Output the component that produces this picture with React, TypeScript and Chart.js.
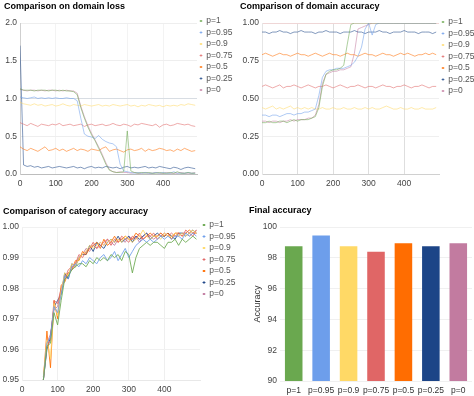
import React, { useEffect, useRef } from 'react';
import { Chart, registerables } from 'chart.js';

Chart.register(...registerables);

const FONT = 'Arial, "Liberation Sans", Helvetica, sans-serif';

const seriesLabels = ['p=1', 'p=0.95', 'p=0.9', 'p=0.75', 'p=0.5', 'p=0.25', 'p=0'];
const seriesColors = ['#6aa84f', '#6d9eeb', '#ffd966', '#e06666', '#ff6d01', '#1c4587', '#c27ba0'];

const xTickValues = [0, 100, 200, 300, 400];

const epochs = [0, 10, 20, 30, 40, 50, 60, 70, 80, 90, 100, 110, 120, 130, 140, 150, 160, 170, 180, 190, 200, 210, 220, 230, 240, 250, 260, 270, 280, 290, 300, 310, 320, 330, 340, 350, 360, 370, 380, 390, 400, 410, 420, 430, 440, 450, 460, 470, 480, 490];

// Domain loss
const lossP1 = [1.13, 1.11, 1.11, 1.11, 1.10, 1.11, 1.11, 1.11, 1.10, 1.11, 1.11, 1.10, 1.11, 1.10, 1.10, 1.09, 1.05, 0.88, 0.74, 0.62, 0.52, 0.44, 0.34, 0.24, 0.13, 0.05, 0.03, 0.02, 0.02, 0.03, 0.57, 0.04, 0.02, 0.01, 0.02, 0.01, 0.02, 0.01, 0.01, 0.02, 0.01, 0.01, 0.02, 0.01, 0.03, 0.01, 0.01, 0.02, 0.01, 0.01];
const lossP095 = [1.02, 1.01, 1.00, 1.01, 1.02, 1.00, 1.01, 1.00, 1.01, 1.00, 1.01, 1.00, 1.00, 1.01, 1.00, 1.00, 0.97, 0.74, 0.53, 0.50, 0.49, 0.47, 0.51, 0.46, 0.43, 0.41, 0.40, 0.36, 0.13, 0.04, 0.03, 0.02, 0.01, 0.02, 0.01, 0.02, 0.01, 0.01, 0.02, 0.01, 0.02, 0.01, 0.01, 0.03, 0.01, 0.01, 0.01, 0.02, 0.01, 0.01];
const lossP09 = [0.95, 0.93, 0.92, 0.91, 0.93, 0.91, 0.92, 0.90, 0.91, 0.92, 0.90, 0.91, 0.93, 0.91, 0.90, 0.92, 0.91, 0.90, 0.92, 0.91, 0.90, 0.91, 0.92, 0.90, 0.91, 0.90, 0.92, 0.91, 0.90, 0.91, 0.92, 0.90, 0.91, 0.89, 0.91, 0.90, 0.92, 0.91, 0.90, 0.91, 0.89, 0.91, 0.90, 0.91, 0.90, 0.92, 0.91, 0.93, 0.92, 0.91];
const lossP075 = [0.68, 0.66, 0.64, 0.67, 0.65, 0.63, 0.66, 0.65, 0.64, 0.66, 0.65, 0.67, 0.64, 0.65, 0.66, 0.64, 0.65, 0.66, 0.63, 0.65, 0.66, 0.64, 0.65, 0.66, 0.64, 0.65, 0.67, 0.65, 0.64, 0.66, 0.65, 0.63, 0.66, 0.65, 0.67, 0.66, 0.65, 0.64, 0.66, 0.62, 0.65, 0.66, 0.64, 0.65, 0.67, 0.66, 0.65, 0.66, 0.64, 0.63];
const lossP05 = [0.36, 0.33, 0.31, 0.34, 0.32, 0.30, 0.33, 0.36, 0.31, 0.32, 0.34, 0.31, 0.33, 0.30, 0.32, 0.34, 0.31, 0.33, 0.32, 0.30, 0.33, 0.32, 0.31, 0.34, 0.36, 0.30, 0.32, 0.33, 0.31, 0.29, 0.32, 0.33, 0.31, 0.32, 0.34, 0.30, 0.33, 0.31, 0.32, 0.34, 0.33, 0.31, 0.32, 0.30, 0.33, 0.31, 0.34, 0.32, 0.30, 0.31];
const lossP025 = [1.70, 0.12, 0.10, 0.11, 0.09, 0.10, 0.08, 0.09, 0.10, 0.08, 0.09, 0.10, 0.09, 0.08, 0.09, 0.10, 0.08, 0.09, 0.07, 0.09, 0.10, 0.08, 0.09, 0.08, 0.10, 0.09, 0.08, 0.09, 0.07, 0.09, 0.10, 0.08, 0.09, 0.08, 0.09, 0.10, 0.08, 0.09, 0.08, 0.10, 0.09, 0.08, 0.07, 0.09, 0.08, 0.06, 0.08, 0.09, 0.08, 0.07];
const lossP0 = [1.12, 1.11, 1.10, 1.11, 1.11, 1.10, 1.11, 1.10, 1.11, 1.11, 1.10, 1.11, 1.10, 1.11, 1.10, 1.10, 1.07, 0.90, 0.76, 0.64, 0.54, 0.45, 0.36, 0.26, 0.15, 0.06, 0.03, 0.02, 0.03, 0.02, 0.02, 0.01, 0.02, 0.01, 0.01, 0.02, 0.01, 0.01, 0.02, 0.01, 0.01, 0.02, 0.01, 0.01, 0.01, 0.02, 0.01, 0.01, 0.01, 0.02];

// Domain accuracy
const accP1 = [0.34, 0.34, 0.35, 0.34, 0.34, 0.35, 0.35, 0.34, 0.35, 0.36, 0.35, 0.36, 0.36, 0.36, 0.37, 0.38, 0.44, 0.58, 0.66, 0.68, 0.69, 0.69, 0.70, 0.72, 0.86, 0.99, 1.00, 1.00, 1.00, 1.00, 1.00, 1.00, 1.00, 1.00, 1.00, 1.00, 1.00, 1.00, 1.00, 1.00, 1.00, 1.00, 1.00, 1.00, 1.00, 1.00, 1.00, 1.00, 1.00, 1.00];
const accP095 = [0.39, 0.39, 0.38, 0.39, 0.39, 0.38, 0.39, 0.40, 0.40, 0.39, 0.40, 0.40, 0.41, 0.41, 0.42, 0.43, 0.52, 0.64, 0.68, 0.69, 0.69, 0.70, 0.70, 0.70, 0.71, 0.72, 0.74, 0.78, 0.84, 0.96, 1.00, 0.92, 0.99, 1.00, 1.00, 1.00, 1.00, 1.00, 1.00, 1.00, 1.00, 1.00, 1.00, 1.00, 1.00, 1.00, 1.00, 1.00, 1.00, 1.00];
const accP09 = [0.44, 0.43, 0.44, 0.45, 0.43, 0.44, 0.43, 0.44, 0.45, 0.43, 0.44, 0.43, 0.44, 0.43, 0.44, 0.43, 0.43, 0.44, 0.43, 0.43, 0.44, 0.43, 0.43, 0.44, 0.43, 0.43, 0.44, 0.43, 0.43, 0.44, 0.43, 0.44, 0.43, 0.43, 0.44, 0.45, 0.44, 0.43, 0.43, 0.44, 0.43, 0.43, 0.44, 0.43, 0.43, 0.44, 0.43, 0.43, 0.43, 0.44];
const accP075 = [0.58, 0.59, 0.58, 0.57, 0.58, 0.59, 0.57, 0.58, 0.58, 0.59, 0.58, 0.57, 0.58, 0.59, 0.58, 0.57, 0.58, 0.58, 0.59, 0.58, 0.57, 0.58, 0.59, 0.58, 0.57, 0.58, 0.58, 0.59, 0.58, 0.57, 0.58, 0.58, 0.57, 0.58, 0.59, 0.58, 0.58, 0.57, 0.58, 0.58, 0.59, 0.58, 0.57, 0.58, 0.58, 0.59, 0.58, 0.57, 0.58, 0.58];
const accP05 = [0.79, 0.80, 0.79, 0.78, 0.79, 0.80, 0.79, 0.79, 0.78, 0.79, 0.80, 0.79, 0.79, 0.78, 0.79, 0.80, 0.79, 0.78, 0.79, 0.80, 0.79, 0.79, 0.78, 0.79, 0.80, 0.79, 0.79, 0.78, 0.79, 0.80, 0.79, 0.79, 0.78, 0.79, 0.80, 0.79, 0.79, 0.78, 0.79, 0.80, 0.79, 0.80, 0.79, 0.78, 0.79, 0.79, 0.80, 0.79, 0.80, 0.79];
const accP025 = [0.94, 0.94, 0.93, 0.94, 0.94, 0.95, 0.94, 0.94, 0.93, 0.94, 0.94, 0.95, 0.94, 0.94, 0.94, 0.93, 0.94, 0.94, 0.95, 0.94, 0.94, 0.94, 0.93, 0.94, 0.94, 0.94, 0.95, 0.94, 0.94, 0.93, 0.94, 0.94, 0.94, 0.95, 0.94, 0.94, 0.93, 0.94, 0.94, 0.94, 0.95, 0.94, 0.94, 0.94, 0.93, 0.94, 0.94, 0.94, 0.93, 0.94];
const accP0 = [0.35, 0.35, 0.34, 0.35, 0.35, 0.34, 0.35, 0.35, 0.36, 0.35, 0.36, 0.36, 0.36, 0.37, 0.37, 0.39, 0.46, 0.60, 0.66, 0.67, 0.68, 0.68, 0.69, 0.69, 0.70, 0.71, 0.80, 0.96, 0.97, 0.98, 0.99, 1.00, 1.00, 1.00, 1.00, 1.00, 1.00, 1.00, 1.00, 1.00, 1.00, 1.00, 1.00, 1.00, 1.00, 1.00, 1.00, 1.00, 1.00, 1.00];

// Category accuracy
const catEpochs = [60, 70, 80, 90, 100, 110, 120, 130, 140, 150, 160, 170, 180, 190, 200, 210, 220, 230, 240, 250, 260, 270, 280, 290, 300, 310, 320, 330, 340, 350, 360, 370, 380, 390, 400, 410, 420, 430, 440, 450, 460, 470, 480, 490];
const catP1 = [0.950, 0.961, 0.962, 0.972, 0.968, 0.976, 0.983, 0.984, 0.986, 0.987, 0.988, 0.988, 0.987, 0.989, 0.988, 0.990, 0.989, 0.990, 0.989, 0.991, 0.990, 0.991, 0.989, 0.992, 0.991, 0.985, 0.990, 0.993, 0.994, 0.995, 0.994, 0.995, 0.995, 0.994, 0.993, 0.995, 0.995, 0.996, 0.994, 0.996, 0.995, 0.996, 0.997, 0.996];
const catP095 = [0.950, 0.962, 0.964, 0.974, 0.972, 0.978, 0.984, 0.983, 0.987, 0.988, 0.987, 0.989, 0.988, 0.990, 0.989, 0.988, 0.990, 0.991, 0.989, 0.990, 0.992, 0.989, 0.991, 0.993, 0.990, 0.992, 0.994, 0.995, 0.996, 0.995, 0.996, 0.995, 0.996, 0.997, 0.996, 0.997, 0.996, 0.997, 0.997, 0.996, 0.998, 0.997, 0.998, 0.997];
const catP09 = [0.951, 0.963, 0.957, 0.975, 0.971, 0.979, 0.985, 0.984, 0.988, 0.987, 0.990, 0.991, 0.992, 0.994, 0.993, 0.994, 0.995, 0.994, 0.995, 0.996, 0.995, 0.996, 0.995, 0.997, 0.996, 0.995, 0.996, 0.997, 0.999, 0.997, 0.996, 0.997, 0.997, 0.996, 0.998, 0.997, 0.997, 0.998, 0.997, 0.998, 0.997, 0.998, 0.999, 0.998];
const catP075 = [0.950, 0.961, 0.963, 0.976, 0.975, 0.980, 0.983, 0.986, 0.987, 0.988, 0.991, 0.990, 0.992, 0.993, 0.995, 0.993, 0.994, 0.995, 0.996, 0.994, 0.996, 0.995, 0.997, 0.996, 0.995, 0.997, 0.996, 0.998, 0.996, 0.997, 0.997, 0.998, 0.996, 0.997, 0.998, 0.997, 0.998, 0.997, 0.998, 0.997, 0.999, 0.998, 0.997, 0.999];
const catP05 = [0.950, 0.966, 0.954, 0.976, 0.970, 0.981, 0.982, 0.985, 0.986, 0.989, 0.989, 0.992, 0.991, 0.993, 0.994, 0.995, 0.993, 0.996, 0.994, 0.995, 0.997, 0.995, 0.996, 0.997, 0.996, 0.996, 0.998, 0.997, 0.996, 0.997, 0.998, 0.997, 0.997, 0.998, 0.997, 0.998, 0.996, 0.998, 0.998, 0.997, 0.998, 0.999, 0.998, 0.998];
const catP025 = [0.950, 0.960, 0.964, 0.974, 0.976, 0.978, 0.985, 0.983, 0.988, 0.987, 0.990, 0.991, 0.991, 0.994, 0.992, 0.995, 0.994, 0.993, 0.995, 0.996, 0.995, 0.997, 0.995, 0.996, 0.997, 0.995, 0.997, 0.996, 0.997, 0.998, 0.996, 0.997, 0.998, 0.997, 0.997, 0.998, 0.997, 0.996, 0.998, 0.998, 0.997, 0.998, 0.999, 0.998];
const catP0 = [0.951, 0.962, 0.965, 0.973, 0.974, 0.979, 0.984, 0.985, 0.986, 0.988, 0.990, 0.991, 0.993, 0.992, 0.994, 0.993, 0.995, 0.994, 0.996, 0.995, 0.994, 0.996, 0.996, 0.995, 0.997, 0.996, 0.997, 0.995, 0.997, 0.998, 0.997, 0.996, 0.997, 0.998, 0.997, 0.998, 0.997, 0.998, 0.997, 0.998, 0.998, 0.997, 0.998, 0.999];

// Final accuracy
const finalAccuracy = [98.75, 99.45, 98.75, 98.4, 98.95, 98.75, 98.95];

function rgba(hex: string, a: number) {
  const n = parseInt(hex.slice(1), 16);
  return `rgba(${(n >> 16) & 255},${(n >> 8) & 255},${n & 255},${a})`;
}

const tickFont = { family: FONT, size: 8.5 };

function lineConfig(p: any) {
  return {
    type: 'line',
    data: {
      datasets: p.values.map((vals: number[], i: number) => ({
        label: seriesLabels[i],
        data: vals.map((v, j) => ({ x: p.xs[j], y: v })),
        borderColor: rgba(seriesColors[i], p.alpha),
        backgroundColor: rgba(seriesColors[i], p.alpha),
        borderWidth: 1,
        pointRadius: 0,
        tension: 0,
      })),
    },
    options: {
      responsive: false,
      animation: false,
      events: [],
      layout: { padding: { left: p.padLeft, right: p.padRight, top: 0, bottom: 0 } },
      plugins: {
        title: {
          display: true,
          text: p.title,
          align: 'start',
          color: '#000',
          font: { family: FONT, size: 9, weight: 'bold', lineHeight: 1.2 },
          padding: { top: p.tTop, bottom: p.tBottom },
        },
        legend: {
          display: true,
          position: 'right',
          align: 'start',
          maxWidth: p.legendW,
          title: { display: true, text: '', padding: { top: p.legendTop, bottom: 0 }, font: { size: 1, lineHeight: 1 } },
          labels: { boxWidth: 2, boxHeight: 1, padding: 3, color: '#555', font: { family: FONT, size: 8.5 } },
        },
        tooltip: { enabled: false },
      },
      scales: {
        x: {
          type: 'linear',
          min: 0,
          max: p.xMax,
          afterFit: (s: any) => { s.height = p.xH; },
          afterBuildTicks: (s: any) => { s.ticks = xTickValues.map((v) => ({ value: v })); },
          ticks: { padding: 5, color: '#444', font: tickFont, maxRotation: 0, autoSkip: false },
          grid: { color: p.vGrid, drawTicks: false },
          border: { color: p.xBorder },
        },
        y: {
          min: p.yMin,
          max: p.yMax,
          afterFit: (s: any) => { s.width = p.yW; },
          ticks: { stepSize: p.yStep, padding: 3, color: '#444', font: tickFont, callback: (v: any) => Number(v).toFixed(p.dec) },
          grid: { color: p.hGrid, drawTicks: false },
          border: { color: p.yBorder },
        },
      },
    },
  };
}

const lossConfig = () => lineConfig({
  title: 'Comparison on domain loss',
  xs: epochs,
  values: [lossP1, lossP095, lossP09, lossP075, lossP05, lossP025, lossP0],
  alpha: 0.55,
  padLeft: 4, padRight: 0, yW: 16, xH: 24,
  tTop: 1.1, tBottom: 11.1,
  legendW: 40, legendTop: 12.75,
  xMax: 495, yMin: 0, yMax: 2, yStep: 0.5, dec: 1,
  vGrid: '#f3f3f3',
  hGrid: (c: any) => (c.tick && c.tick.value === 1 ? '#d8dde3' : '#eeeeee'),
  xBorder: '#bdbdbd', yBorder: '#cfcfcf',
});

const domAccConfig = () => lineConfig({
  title: 'Comparison of domain accuracy',
  xs: epochs,
  values: [accP1, accP095, accP09, accP075, accP05, accP025, accP0],
  alpha: 0.55,
  padLeft: 3, padRight: 0, yW: 22, xH: 24,
  tTop: 1.6, tBottom: 10.6,
  legendW: 35, legendTop: 13.75,
  xMax: 498, yMin: 0, yMax: 1, yStep: 0.25, dec: 2,
  vGrid: '#dedede',
  hGrid: (c: any) => (c.tick && c.tick.value === 1 ? '#efd6d6' : '#efefef'),
  xBorder: '#d0d0d0', yBorder: '#e6e6e6',
});

const catAccConfig = () => lineConfig({
  title: 'Comparison of category accuracy',
  xs: catEpochs,
  values: [catP1, catP095, catP09, catP075, catP05, catP025, catP0],
  alpha: 0.85,
  padLeft: 3, padRight: 0, yW: 19, xH: 16,
  tTop: 8.1, tBottom: 10.1,
  legendW: 37, legendTop: 18.75,
  xMax: 500, yMin: 0.95, yMax: 1.0, yStep: 0.01, dec: 2,
  vGrid: '#efefef',
  hGrid: '#f1f1f1',
  xBorder: '#e8e8e8', yBorder: '#f1f1f1',
});

const barConfig = () => ({
  type: 'bar',
  data: {
    labels: seriesLabels,
    datasets: [{
      label: 'Accuracy',
      data: finalAccuracy,
      backgroundColor: seriesColors,
      borderWidth: 0,
      barPercentage: 0.64,
      categoryPercentage: 1,
    }],
  },
  options: {
    responsive: false,
    animation: false,
    events: [],
    layout: { padding: { left: 12, right: 2, top: 0, bottom: 0 } },
    plugins: {
      title: {
        display: true,
        text: 'Final accuracy',
        align: 'start',
        color: '#000',
        font: { family: FONT, size: 9, weight: 'bold', lineHeight: 1.2 },
        padding: { top: 7.1, bottom: 11.1 },
      },
      legend: { display: false },
      tooltip: { enabled: false },
    },
    scales: {
      x: {
        afterFit: (s: any) => { s.height = 15; },
        ticks: { autoSkip: false, maxRotation: 0, minRotation: 0, padding: 5, color: '#333', font: tickFont },
        grid: { display: false, drawTicks: false },
        border: { display: false },
      },
      y: {
        min: 90,
        max: 100,
        afterFit: (s: any) => { s.width = 31; },
        title: { display: true, text: 'Accuracy', color: '#333', font: { family: FONT, size: 9, lineHeight: 1.2 }, padding: { top: 3.6, bottom: 0 } },
        ticks: { stepSize: 2, padding: 3, color: '#444', font: tickFont },
        grid: { color: '#f0f0f0', drawTicks: false },
        border: { display: false },
      },
    },
  },
});

function ChartBox({ make, left, top, w, h }: any) {
  const ref = useRef<HTMLCanvasElement | null>(null);
  useEffect(() => {
    const chart = new Chart(ref.current as HTMLCanvasElement, make());
    return () => chart.destroy();
  }, []);
  return (
    <div style={{ position: 'absolute', left, top, width: w, height: h }}>
      <canvas ref={ref} width={w} height={h} style={{ display: 'block', width: w, height: h }} />
    </div>
  );
}

export default function App() {
  return (
    <div style={{ position: 'absolute', left: 0, top: 0, width: 474, height: 396, background: '#fff', overflow: 'hidden' }}>
      <ChartBox make={lossConfig} left={0} top={0} w={237} h={198} />
      <ChartBox make={domAccConfig} left={237} top={0} w={237} h={198} />
      <ChartBox make={catAccConfig} left={0} top={198} w={237} h={198} />
      <ChartBox make={barConfig} left={237} top={198} w={237} h={198} />
    </div>
  );
}
